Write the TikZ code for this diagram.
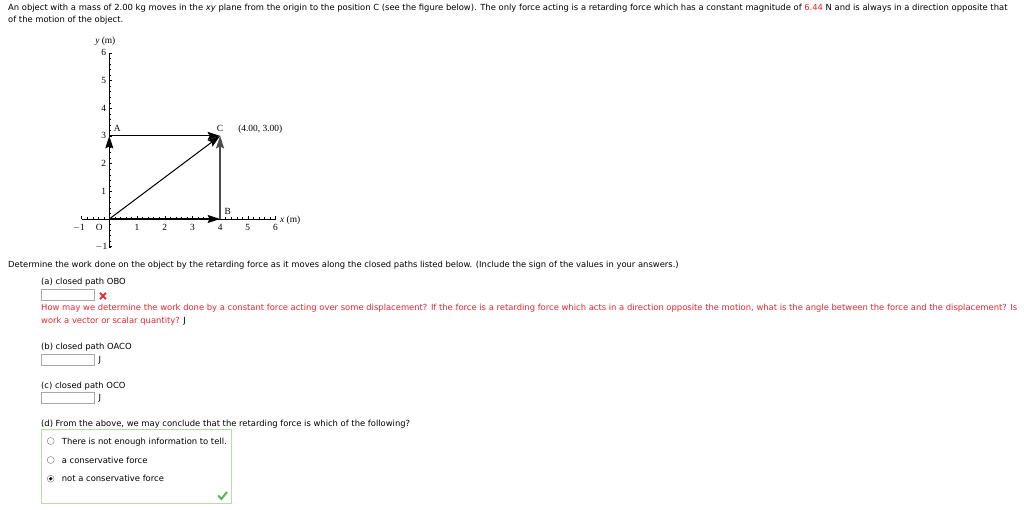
\documentclass[tikz,border=0pt]{standalone}
\usepackage{fontspec}
\setmainfont{DejaVu Sans}
\newfontfamily\graphfont{Liberation Serif}
\usetikzlibrary{positioning, arrows.meta, calc}
\definecolor{hintred}{HTML}{E3262E}
\definecolor{okgreen}{HTML}{5DB15A}
\definecolor{boxgreen}{HTML}{B9DBA6}
\definecolor{fieldgray}{HTML}{A8A8A8}

\begin{document}
\begin{tikzpicture}[x=1pt, y=1pt]
\tikzstyle{para}=[anchor=base west, inner sep=0pt, font=\fontsize{8.4}{10}\selectfont]
\tikzstyle{hint}=[para, text=hintred]
\tikzstyle{field}=[draw=fieldgray, rectangle, anchor=west, minimum width=53pt, minimum height=11pt, inner sep=0pt]
\tikzstyle{radio}=[draw=black!55, circle, fill=white, minimum size=7pt, inner sep=0pt]
\tikzstyle{vec}=[draw, line width=1pt, -{Stealth[length=12.5pt, width=8pt, inset=2pt]}]
\tikzstyle{lbl}=[inner sep=0pt, font=\graphfont\fontsize{9.4}{10}\selectfont]

\useasboundingbox[fill=white] (0,0) rectangle (1024,-510);

% question text
\node[para](intro-1) at (8,-10.5) {An object with a mass of 2.00 kg moves in the \textit{xy} plane from the origin to the position C (see the figure below). The only force acting is a retarding force which has a constant magnitude of \textcolor{hintred}{6.44} N and is always in a direction opposite that};
\node[para](intro-2) at (8,-22.5) {of the motion of the object.};

% figure
\begin{scope}[shift={(109.3pt,-219pt)}, x=27.7pt, y=27.7pt]
\draw[line width=0.4pt] (-1,0) -- (6,0);
\draw[line width=0.4pt] (0,-1) -- (0,6);
\foreach \k in {-5,...,30} {
  \draw[line width=0.3pt] (\k/5,0) -- ++(0,1.5pt);
  \draw[line width=0.3pt] (0,\k/5) -- ++(1.5pt,0);
}
\foreach \k in {-1,...,6} {
  \draw[line width=0.4pt] (\k,0) -- ++(0,2.5pt);
  \draw[line width=0.4pt] (0,\k) -- ++(3pt,0);
}
\foreach \k in {1,...,6} {
  \node[lbl](xt-\k) at (\k,-8.7pt) {\k};
  \node[lbl](yt-\k) at (-5.5pt,\k) {\k};
}
\node[lbl](xt-m1) at (-1.1,-8.7pt) {$-$1};
\node[lbl](yt-m1) at (-8pt,-1) {$-$1};
\node[lbl](xt-o) at (-10pt,-8.7pt) {O};
\node[lbl](y-title) at ($(0,6)+(-4pt,11.5pt)$) {\textit{y} (m)};
\node[lbl, anchor=west](x-title) at ($(6,0)+(4.5pt,-1.5pt)$) {\textit{x} (m)};

\coordinate (O) at (0,0);
\coordinate (A) at (0,3);
\coordinate (B) at (4,0);
\coordinate (C) at (4,3);
\path[vec] (O) -- (A);
\path[vec] (O) -- (B);
\path[vec] (A) -- (C);
\path[vec] (O) -- (C);
\path[vec, draw=black!70, line width=1.5pt] (B) -- (C);
\node[lbl](A-lbl) at ($(A)+(8pt,7pt)$) {A};
\node[lbl](C-lbl) at ($(C)+(0pt,7pt)$) {C};
\node[lbl, anchor=west](C-pos) at ($(C)+(18pt,7pt)$) {(4.00, 3.00)};
\node[lbl](B-lbl) at ($(B)+(7.7pt,7.3pt)$) {B};
\end{scope}

% part (a)
\node[para](task) at (8,-268) {Determine the work done on the object by the retarding force as it moves along the closed paths listed below. (Include the sign of the values in your answers.)};
\node[para](part-a) at (41,-284.5) {(a) closed path OBO};
\node[field](field-a) at (41,-295) {};
\draw[hintred, line width=1.8pt] (100,-292.8) -- (106,-299.2) (100,-299.2) -- (106,-292.8);
\node[hint](hint-1) at (41,-310.5) {How may we determine the work done by a constant force acting over some displacement? If the force is a retarding force which acts in a direction opposite the motion, what is the angle between the force and the displacement? Is};
\node[hint](hint-2) at (41,-323.5) {work a vector or scalar quantity? \textcolor{black}{J}};

% parts (b) and (c)
\node[para](part-b) at (41,-349.5) {(b) closed path OACO};
\node[field](field-b) at (41,-359.5) {};
\node[para](unit-b) at (98.5,-362.3) {J};
\node[para](part-c) at (41,-388) {(c) closed path OCO};
\node[field](field-c) at (41,-398) {};
\node[para](unit-c) at (98.5,-400.8) {J};

% part (d)
\node[para](part-d) at (41,-426) {(d) From the above, we may conclude that the retarding force is which of the following?};
\node[draw=boxgreen, line width=0.8pt, rectangle, minimum width=189.5pt, minimum height=73.5pt, inner sep=0pt](choices) at (136.25,-466.25) {};
\node[radio](opt-1) at (50.7,-441) {};
\node[radio](opt-2) at (50.7,-460) {};
\node[radio](opt-3) at (50.7,-478.7) {};
\fill (opt-3) circle (1.8pt);
\node[para](opt-1-txt) at (61.7,-444) {There is not enough information to tell.};
\node[para](opt-2-txt) at (61.7,-463) {a conservative force};
\node[para](opt-3-txt) at (61.7,-481.7) {not a conservative force};
\draw[okgreen, line width=2pt] (218.3,-495.5) -- (221.3,-499) -- (227,-492);

\end{tikzpicture}
\end{document}
